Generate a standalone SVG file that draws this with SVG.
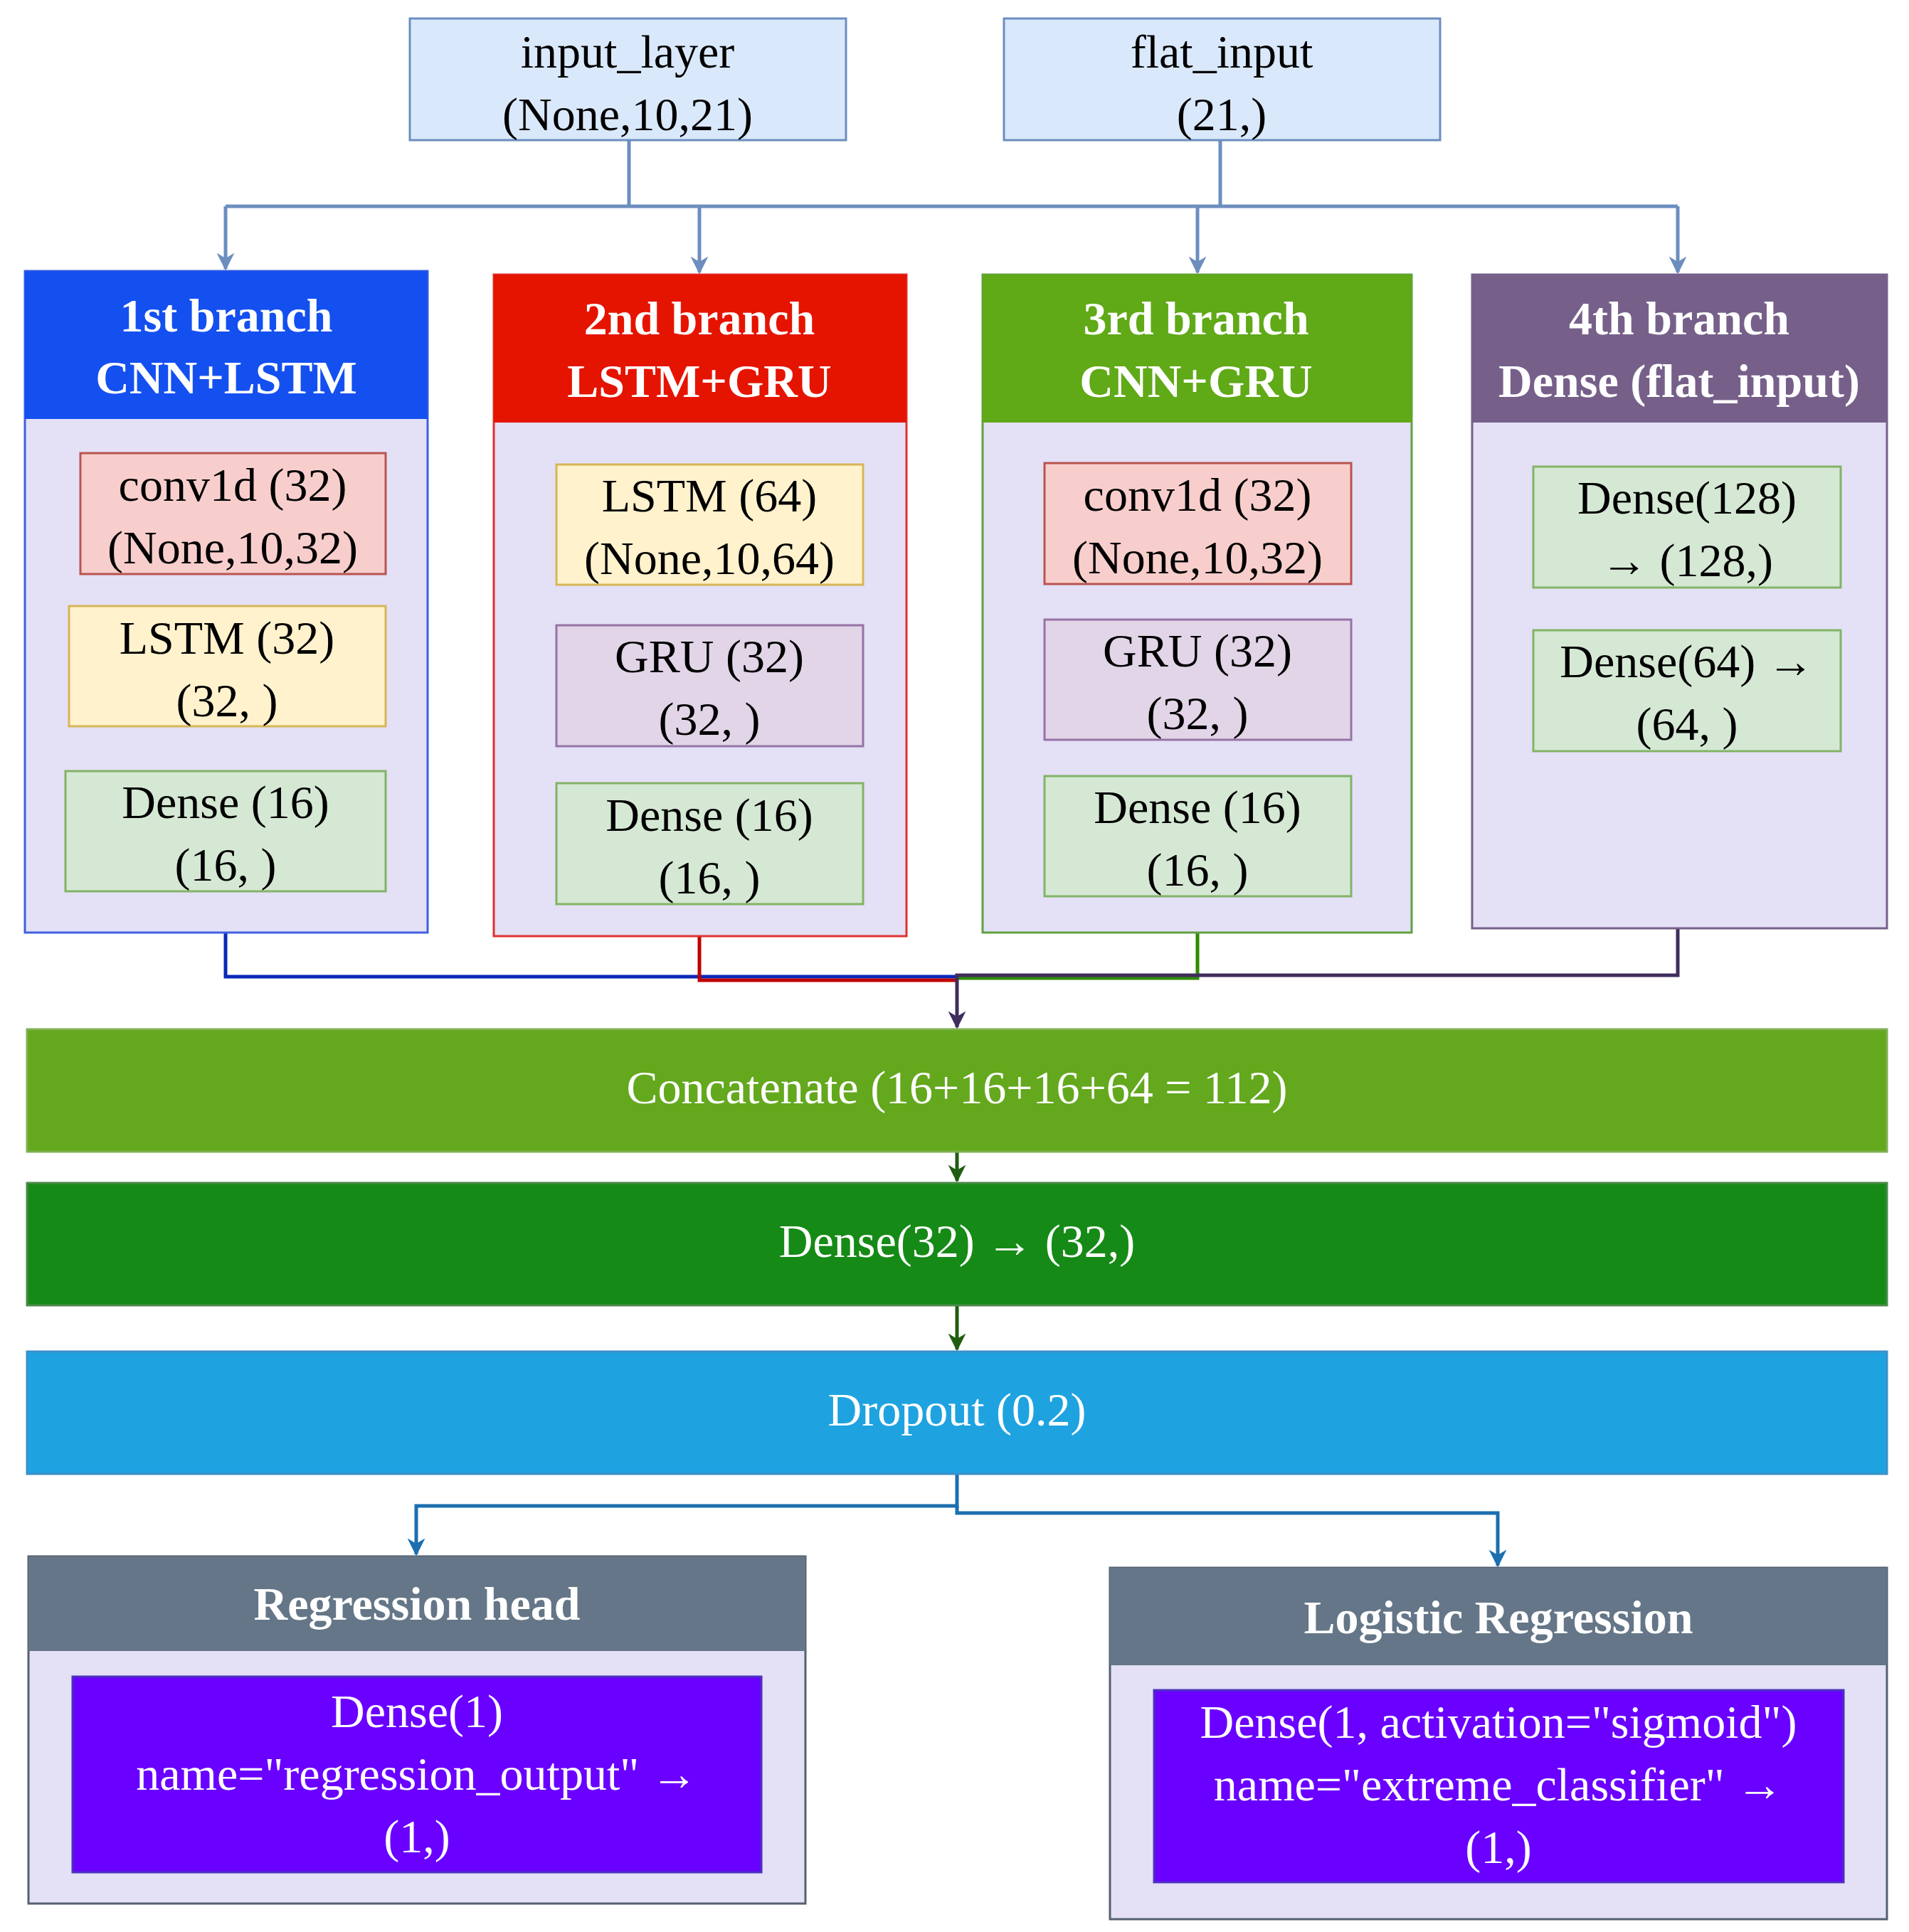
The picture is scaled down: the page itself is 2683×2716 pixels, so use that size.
<svg xmlns="http://www.w3.org/2000/svg" width="2683" height="2716" viewBox="0 0 2683 2716">
<defs>
<style>
text{font-family:"Liberation Serif","Times New Roman",serif;font-size:66px;text-anchor:middle;fill:#000}
.w{fill:#fff}.b{font-weight:bold}
.inp{fill:#DAE8FC;stroke:#6C8EBF;stroke-width:3}
.body{fill:#E4E0F6;stroke-width:3}
.conv{fill:#F8CECC;stroke:#B85450;stroke-width:3}
.lstm{fill:#FFF2CC;stroke:#D6B656;stroke-width:3}
.gru{fill:#E1D5E7;stroke:#9673A6;stroke-width:3}
.dense{fill:#D5E8D4;stroke:#82B366;stroke-width:3}
.c{fill:none;stroke-width:5}
</style>
<marker id="aB" viewBox="0 0 10 10" refX="9" refY="5" markerWidth="5" markerHeight="5" orient="auto"><path d="M0,0L10,5L0,10L3,5Z" fill="#6C8EBF"/></marker>
<marker id="aR" viewBox="0 0 10 10" refX="9" refY="5" markerWidth="5" markerHeight="5" orient="auto"><path d="M0,0L10,5L0,10L3,5Z" fill="#B85450"/></marker>
<marker id="aY" viewBox="0 0 10 10" refX="9" refY="5" markerWidth="5" markerHeight="5" orient="auto"><path d="M0,0L10,5L0,10L3,5Z" fill="#D6B656"/></marker>
<marker id="aP" viewBox="0 0 10 10" refX="9" refY="5" markerWidth="5" markerHeight="5" orient="auto"><path d="M0,0L10,5L0,10L3,5Z" fill="#3F2D5C"/></marker>
<marker id="aG" viewBox="0 0 10 10" refX="9" refY="5" markerWidth="5" markerHeight="5" orient="auto"><path d="M0,0L10,5L0,10L3,5Z" fill="#1F5E10"/></marker>
<marker id="aC" viewBox="0 0 10 10" refX="9" refY="5" markerWidth="5" markerHeight="5" orient="auto"><path d="M0,0L10,5L0,10L3,5Z" fill="#1B6FB0"/></marker>
</defs>
<rect width="2683" height="2716" fill="#fff"/>

<g id="connectors">
<path class="c" stroke="#6C8EBF" d="M884,197V290M1715,197V290M317,290H2358M317,290V378" marker-end="url(#aB)"/>
<path class="c" stroke="#6C8EBF" d="M983,290V383" marker-end="url(#aB)"/>
<path class="c" stroke="#6C8EBF" d="M1683,290V383" marker-end="url(#aB)"/>
<path class="c" stroke="#6C8EBF" d="M2358,290V383" marker-end="url(#aB)"/>
<path class="c" stroke="#B85450" d="M320,807V849" marker-end="url(#aR)"/>
<path class="c" stroke="#D6B656" d="M317,1021V1081" marker-end="url(#aY)"/>
<path class="c" stroke="#B85450" d="M997,822V876" marker-end="url(#aR)"/>
<path class="c" stroke="#D6B656" d="M997,1049V1098" marker-end="url(#aY)"/>
<path class="c" stroke="#B85450" d="M1683,821V868" marker-end="url(#aR)"/>
<path class="c" stroke="#D6B656" d="M1683,1040V1088" marker-end="url(#aY)"/>
<path class="c" stroke="#B85450" d="M2371,826V883" marker-end="url(#aR)"/>
<path class="c" stroke="#0A28B8" d="M317,1311V1373H1345"/>
<path class="c" stroke="#C00000" d="M983,1316V1378H1345"/>
<path class="c" stroke="#2E8B00" d="M1683,1311V1375H1345"/>
<path class="c" stroke="#3F2D5C" d="M2358,1305V1371H1345V1444" marker-end="url(#aP)"/>
<path class="c" stroke="#1F5E10" d="M1345,1619V1660" marker-end="url(#aG)"/>
<path class="c" stroke="#1F5E10" d="M1345,1835V1897" marker-end="url(#aG)"/>
<path class="c" stroke="#1B6FB0" d="M1345,2072V2117H585V2185" marker-end="url(#aC)"/>
<path class="c" stroke="#1B6FB0" d="M1345,2117V2127H2105V2201" marker-end="url(#aC)"/>
</g>

<g id="input_layer"><rect class="inp" x="576" y="26" width="613" height="171"/><text x="882" y="95">input_layer</text><text x="882" y="183">(None,10,21)</text></g>
<g id="flat_input"><rect class="inp" x="1411" y="26" width="613" height="171"/><text x="1717" y="95">flat_input</text><text x="1717" y="183">(21,)</text></g>

<g id="branch1"><rect class="body" x="35" y="381" width="566" height="930" stroke="#4060E0"/><rect x="35" y="381" width="566" height="208" fill="#1450F0"/><text class="w b" x="318" y="466">1st branch</text><text class="w b" x="318" y="553">CNN+LSTM</text>
<rect class="conv" x="113" y="637" width="429" height="170"/><text x="327" y="704">conv1d (32)</text><text x="327" y="792">(None,10,32)</text>
<rect class="lstm" x="97" y="852" width="445" height="169"/><text x="319" y="919">LSTM (32)</text><text x="319" y="1007">(32, )</text>
<rect class="dense" x="92" y="1084" width="450" height="169"/><text x="317" y="1150">Dense (16)</text><text x="317" y="1238">(16, )</text></g>

<g id="branch2"><rect class="body" x="694" y="386" width="580" height="930" stroke="#E03030"/><rect x="694" y="386" width="580" height="208" fill="#E51400"/><text class="w b" x="983" y="470">2nd branch</text><text class="w b" x="983" y="558">LSTM+GRU</text>
<rect class="lstm" x="782" y="653" width="431" height="169"/><text x="997" y="719">LSTM (64)</text><text x="997" y="807">(None,10,64)</text>
<rect class="gru" x="782" y="879" width="431" height="170"/><text x="997" y="945">GRU (32)</text><text x="997" y="1033">(32, )</text>
<rect class="dense" x="782" y="1101" width="431" height="170"/><text x="997" y="1168">Dense (16)</text><text x="997" y="1256">(16, )</text></g>

<g id="branch3"><rect class="body" x="1381" y="386" width="603" height="925" stroke="#60A040"/><rect x="1381" y="386" width="603" height="208" fill="#60A917"/><text class="w b" x="1681" y="470">3rd branch</text><text class="w b" x="1681" y="558">CNN+GRU</text>
<rect class="conv" x="1468" y="651" width="431" height="170"/><text x="1683" y="718">conv1d (32)</text><text x="1683" y="806">(None,10,32)</text>
<rect class="gru" x="1468" y="871" width="431" height="169"/><text x="1683" y="937">GRU (32)</text><text x="1683" y="1025">(32, )</text>
<rect class="dense" x="1468" y="1091" width="431" height="169"/><text x="1683" y="1157">Dense (16)</text><text x="1683" y="1245">(16, )</text></g>

<g id="branch4"><rect class="body" x="2069" y="386" width="583" height="919" stroke="#76608A"/><rect x="2069" y="386" width="583" height="208" fill="#76608A"/><text class="w b" x="2360" y="470">4th branch</text><text class="w b" x="2360" y="558">Dense (flat_input)</text>
<rect class="dense" x="2155" y="656" width="432" height="170"/><text x="2371" y="722">Dense(128)</text><text x="2371" y="810">→ (128,)</text>
<rect class="dense" x="2155" y="886" width="432" height="170"/><text x="2371" y="952">Dense(64)  →</text><text x="2371" y="1040">(64, )</text></g>

<g id="concatenate"><rect x="38" y="1447" width="2614" height="172" fill="#64A81E" stroke="#7FB050" stroke-width="3"/><text class="w" x="1345" y="1551">Concatenate (16+16+16+64 = 112)</text></g>
<g id="dense32"><rect x="38" y="1663" width="2614" height="172" fill="#168A16" stroke="#4A8A4A" stroke-width="3"/><text class="w" x="1345" y="1767">Dense(32) → (32,)</text></g>
<g id="dropout"><rect x="38" y="1900" width="2614" height="172" fill="#1EA3E0" stroke="#3A90C8" stroke-width="3"/><text class="w" x="1345" y="2004">Dropout (0.2)</text></g>

<g id="regression_head"><rect x="40" y="2188" width="1092" height="488" fill="#E4E0F6" stroke="#556070" stroke-width="3"/><rect x="40" y="2188" width="1092" height="133" fill="#647687"/><text class="w b" x="586" y="2277">Regression head</text>
<rect x="102" y="2357" width="968" height="275" fill="#6A00FF" stroke="#4A30C0" stroke-width="3"/><text class="w" x="586" y="2428">Dense(1)</text><text class="w" x="586" y="2516">name="regression_output"  →</text><text class="w" x="586" y="2604">(1,)</text></g>

<g id="logistic_regression"><rect x="1560" y="2204" width="1092" height="494" fill="#E4E0F6" stroke="#556070" stroke-width="3"/><rect x="1560" y="2204" width="1092" height="137" fill="#647687"/><text class="w b" x="2106" y="2296">Logistic Regression</text>
<rect x="1622" y="2376" width="969" height="270" fill="#6A00FF" stroke="#4A30C0" stroke-width="3"/><text class="w" x="2106" y="2443">Dense(1, activation="sigmoid")</text><text class="w" x="2106" y="2531">name="extreme_classifier" →</text><text class="w" x="2106" y="2619">(1,)</text></g>
</svg>
